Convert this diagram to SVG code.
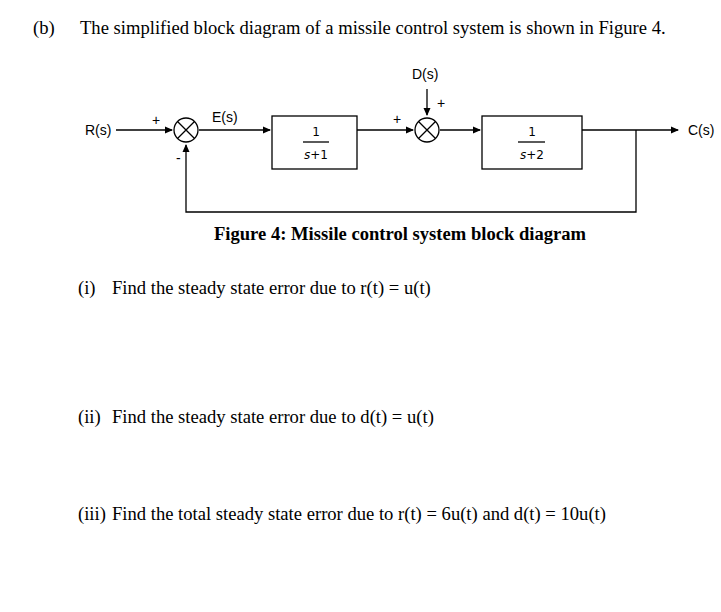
<svg xmlns="http://www.w3.org/2000/svg" width="721" height="612" viewBox="0 0 721 612">
<style>
.t{font-family:"Liberation Serif",serif;font-size:18.6px;fill:#000}
.s{font-family:"Liberation Sans",Arial,sans-serif;font-size:14px;fill:#000}
.f{font-family:"DejaVu Sans",sans-serif;font-size:12px;fill:#000;text-anchor:middle}
.ln{stroke:#000;stroke-width:1.3;fill:none}
.blk{stroke:#000;stroke-width:1.3;fill:#fff}
</style>
<defs><marker id="a" markerWidth="8" markerHeight="8" refX="7" refY="4" orient="auto" markerUnits="userSpaceOnUse"><path d="M0,0.5 L8,4 L0,7.5 Z" fill="#000"/></marker></defs>
<rect width="721" height="612" fill="#fff"/>
<text class="t" x="33" y="34">(b)</text>
<text class="t" x="80" y="34">The simplified block diagram of a missile control system is shown in Figure 4.</text>
<g id="connectors">
<path class="ln" d="M116,130 H172" marker-end="url(#a)"/>
<path class="ln" d="M199,130 H270" marker-end="url(#a)"/>
<path class="ln" d="M357,130 H413" marker-end="url(#a)"/>
<path class="ln" d="M427,89 V115" marker-end="url(#a)"/>
<path class="ln" d="M440,130 H480" marker-end="url(#a)"/>
<path class="ln" d="M582,130 H678" marker-end="url(#a)"/>
<path class="ln" d="M636,130 V212 H186 V145" marker-end="url(#a)"/>
</g>
<g id="sum1"><circle class="blk" cx="186" cy="130" r="12"/><path class="ln" d="M177.5,121.5 L194.5,138.5 M194.5,121.5 L177.5,138.5"/></g>
<g id="sum2"><circle class="blk" cx="427" cy="130" r="12"/><path class="ln" d="M418.5,121.5 L435.5,138.5 M435.5,121.5 L418.5,138.5"/></g>
<g id="g1"><rect class="blk" x="272" y="116" width="85" height="53"/><text class="f" x="316" y="136">1</text><line class="ln" x1="303" y1="142" x2="329" y2="142" stroke-width="1.8"/><text class="f" x="316" y="159"><tspan font-style="italic">s</tspan>+1</text></g>
<g id="g2"><rect class="blk" x="482" y="116" width="100" height="53"/><text class="f" x="532" y="136">1</text><line class="ln" x1="518" y1="142" x2="545" y2="142" stroke-width="1.8"/><text class="f" x="532" y="159"><tspan font-style="italic">s</tspan>+2</text></g>
<g id="labels">
<text class="s" x="85" y="135">R(s)</text>
<text class="s" x="212" y="122">E(s)</text>
<text class="s" x="412" y="79">D(s)</text>
<text class="s" x="688" y="135">C(s)</text>
<text class="s" x="152" y="125" font-size="10">+</text>
<text class="s" x="176" y="163" font-size="10">-</text>
<text class="s" x="393" y="124" font-size="10">+</text>
<text class="s" x="437" y="108" font-size="10">+</text>
</g>
<text class="t" x="400" y="240" text-anchor="middle" font-weight="bold">Figure 4: Missile control system block diagram</text>
<text class="t" x="78" y="294">(i)</text><text class="t" x="112" y="294">Find the steady state error due to r(t) = u(t)</text>
<text class="t" x="78" y="423">(ii)</text><text class="t" x="112" y="423">Find the steady state error due to d(t) = u(t)</text>
<text class="t" x="78" y="520">(iii)</text><text class="t" x="112" y="520">Find the total steady state error due to r(t) = 6u(t) and d(t) = 10u(t)</text>
</svg>
